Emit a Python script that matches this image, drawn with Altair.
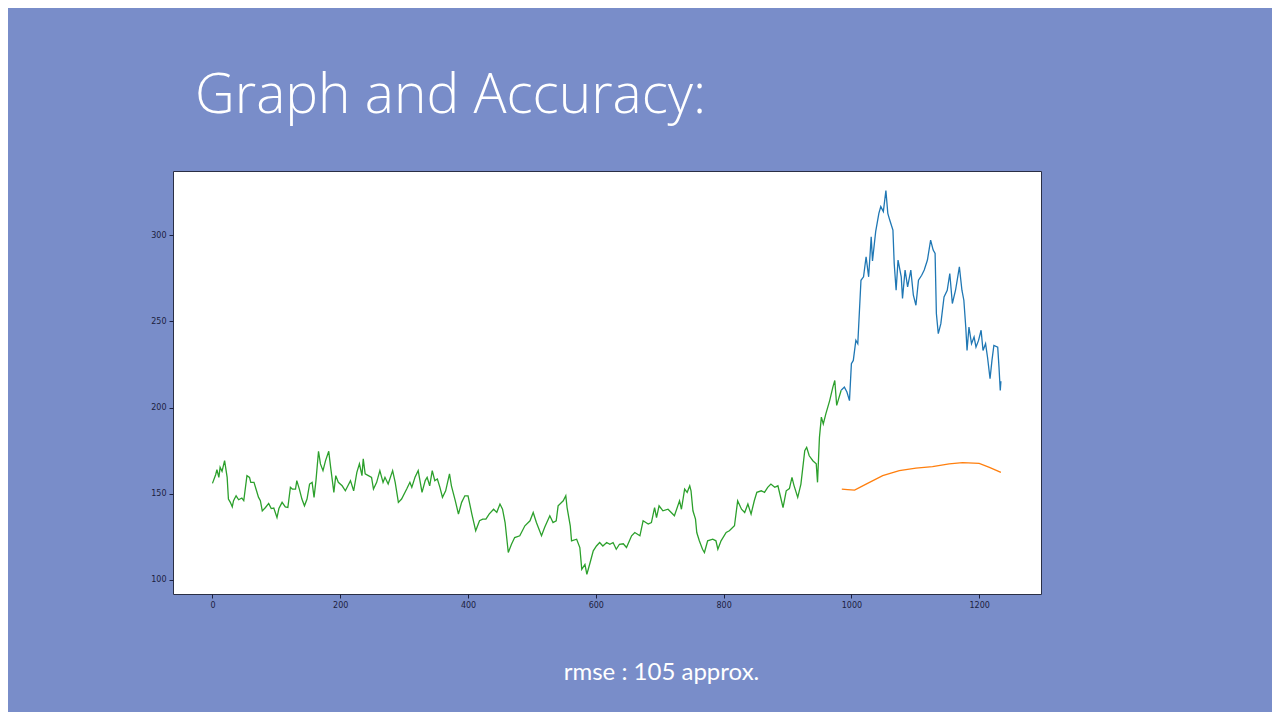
import altair as alt
import pandas as pd

# Training series (green)
train_idx = [0, 5, 7, 10, 12, 15, 19, 23, 25, 28, 31, 33, 37, 41, 46, 49, 54, 58, 60, 65,
             69, 72, 75, 78, 83, 88, 92, 96, 101, 104, 109, 114, 118, 122, 125, 130, 132, 136, 140, 144,
             148, 152, 156, 159, 162, 166, 169, 173, 177, 182, 185, 190, 193, 197, 203, 208, 212, 216, 221, 226,
             230, 234, 236, 239, 244, 249, 252, 257, 262, 267, 270, 275, 282, 286, 291, 296, 304, 309, 312, 317,
             322, 328, 333, 336, 340, 344, 348, 352, 356, 360, 365, 371, 374, 380, 385, 390, 395, 400, 406, 412,
             418, 423, 428, 433, 440, 445, 450, 454, 458, 463, 468, 473, 481, 489, 497, 502, 507, 515, 520, 528,
             533, 538, 541, 549, 553, 555, 560, 562, 570, 575, 578, 583, 586, 591, 596, 601, 606, 611, 617, 622,
             627, 632, 637, 643, 648, 656, 661, 669, 674, 682, 687, 692, 695, 699, 705, 713, 718, 723, 731, 734,
             739, 743, 747, 749, 752, 756, 758, 762, 767, 770, 775, 783, 788, 791, 796, 804, 809, 817, 822, 828,
             833, 838, 843, 848, 852, 859, 864, 869, 874, 880, 885, 893, 898, 903, 907, 910, 916, 921, 927, 930,
             934, 940, 945, 947, 950, 953, 956, 960, 966, 971, 974, 977, 980, 984]
train_val = [156, 161, 164, 159.5, 165.3, 163, 169.2, 159.5, 146.9, 145, 142.4, 146, 148.8, 146.5, 147.5, 146, 160.5, 159.5, 156.6, 156.6,
             151.7, 148, 146, 140, 142, 144.4, 141.4, 141.7, 136.2, 141.4, 145, 142.4, 142, 153.7, 152.7, 152.7, 157.6, 152.7, 146.9, 143,
             146.9, 155.6, 156.6, 147.9, 157.6, 174.6, 167.3, 163.4, 169.2, 174.6, 165.3, 150.8, 160.5, 156.6, 154.6, 151.7, 154.6, 157.6, 151.7, 162.4,
             167.3, 160.5, 170.2, 161.5, 160.5, 159.5, 152.7, 156.6, 163.4, 156.6, 159.5, 155.6, 163.4, 156.6, 145, 146.9, 152.7, 156.6, 153.7, 159.5,
             163.4, 150.8, 157.6, 159.5, 154.6, 163.4, 157.6, 158.5, 153.7, 147.9, 151.7, 161.5, 154.6, 146, 138.2, 145, 148.8, 148.8, 138.2, 128.5,
             134.3, 135.3, 135.3, 138.2, 141, 139.2, 144, 141, 133.3, 115.9, 120.7, 124.6, 125.6, 131.4, 134.3, 139.1, 133.3, 125.6, 130.5, 137.2,
             133.3, 134.3, 143, 145.9, 148.8, 142, 131.4, 122.7, 123.6, 118.8, 106.2, 109, 103.3, 110, 116.9, 119.7, 121.7, 119.7, 121.7, 120.7,
             121.7, 117.8, 120.7, 121, 118.8, 125.6, 127.5, 125.6, 134.3, 132.4, 133.3, 142, 136.2, 143, 140.1, 141, 139.1, 137.2, 145.9, 141,
             152.7, 150.8, 154.6, 151.7, 140.1, 135.3, 127.5, 122.7, 117.8, 115.9, 122.7, 123.6, 122.7, 117.8, 122.7, 127.5, 128.5, 131.4, 145.9, 141,
             139.1, 144, 138.2, 145.9, 150.8, 151.7, 150.8, 153.7, 155.6, 153.7, 154.6, 142, 151.7, 153, 159.5, 155, 147.9, 155.6, 175, 176.9,
             172, 169, 167.3, 156.6, 182.7, 194.4, 190.5, 196.3, 204, 211.8, 215.7, 201.2, 205, 210]

# Actual test values (blue)
test_idx = [984, 989, 993, 997, 1000, 1003, 1007, 1010, 1015, 1019, 1023, 1027, 1031, 1033, 1038, 1043, 1046, 1050, 1054, 1057,
            1060, 1065, 1067, 1070, 1073, 1078, 1080, 1084, 1088, 1093, 1097, 1101, 1105, 1110, 1114, 1119, 1124, 1128, 1131, 1133,
            1136, 1140, 1145, 1150, 1154, 1158, 1163, 1169, 1173, 1176, 1179, 1181, 1184, 1188, 1192, 1195, 1199, 1203, 1206, 1210,
            1213, 1217, 1220, 1223, 1229, 1231, 1233, 1234]
test_val = [210, 211.8, 209, 204, 225.4, 227.3, 239, 237, 273.8, 275.8, 287.4, 275.8, 299, 285, 302, 312.6, 316.5, 313.6, 325.8, 312.6,
            308.7, 302.9, 283.5, 268, 285.5, 275.8, 263.2, 279.7, 270, 279.7, 265.1, 259.3, 273.8, 276.7, 279.7, 285.5, 297.1, 291.3, 289.3, 254.5,
            242.8, 248.6, 264.1, 268, 277.7, 260.3, 268, 281.6, 268, 262.2, 246.7, 233.1, 246.7, 237, 240.9, 235, 238.9, 244.8, 233.1, 237,
            229.3, 216.7, 227.3, 236, 235, 223.4, 209.9, 215.3]

# Predictions (orange)
pred_idx = [985, 994, 1005, 1023, 1049, 1075, 1101, 1127, 1153, 1174, 1200, 1216, 1234]
pred_val = [152.7, 152.4, 152.1, 155.6, 160.5, 163.4, 164.9, 165.7, 167.3, 168, 167.6, 165.3, 162.4]

x_ticks = [0, 200, 400, 600, 800, 1000, 1200]
y_ticks = [100, 150, 200, 250, 300]

df = pd.concat([
    pd.DataFrame({"i": train_idx, "v": train_val, "s": "train"}),
    pd.DataFrame({"i": test_idx, "v": test_val, "s": "actual"}),
    pd.DataFrame({"i": pred_idx, "v": pred_val, "s": "pred"}),
], ignore_index=True)

lines = alt.Chart(df).mark_line(strokeWidth=1.3).encode(
    x=alt.X("i:Q",
            scale=alt.Scale(domain=[-61.75, 1296.75], nice=False, zero=False),
            axis=alt.Axis(values=x_ticks, format="d", title="rmse : 105 approx.", grid=False, domain=False,
                          tickSize=4, tickColor="#1c2140", labelColor="#1c2140",
                          labelFont="DejaVu Sans", labelFontSize=8, labelPadding=3,
                          titleFont="Lato", titleFontSize=24, titleColor="white",
                          titleFontWeight="normal", titleX=488, titleY=85,
                          titleBaseline="alphabetic", titleAlign="center")),
    y=alt.Y("v:Q",
            scale=alt.Scale(domain=[91.85, 337.15], nice=False, zero=False),
            axis=alt.Axis(values=y_ticks, title=None, grid=False, domain=False,
                          tickSize=4, tickColor="#1c2140", labelColor="#1c2140",
                          labelFont="DejaVu Sans", labelFontSize=8, labelPadding=3)),
    color=alt.Color("s:N", scale=alt.Scale(domain=["train", "actual", "pred"],
                                           range=["#2ca02c", "#1f77b4", "#ff7f0e"]),
                    legend=None),
    detail="s:N",
)

chart = alt.layer(lines).properties(
    width=868,
    height=423,
    autosize=alt.AutoSizeParams(type="none"),
    padding={"left": 165, "top": 163, "right": 231, "bottom": 118},
    background="#798DC9",
    title=alt.TitleParams("Graph and Accuracy:", anchor="start", frame="group", dx=22,
                          offset=3, baseline="alphabetic", font="Open Sans",
                          fontSize=55, fontWeight=300, color="white"),
).configure_view(fill="white", stroke="#2a2f45", strokeWidth=1)

chart.save("out.html", embed_options={"renderer": "svg", "actions": False})
